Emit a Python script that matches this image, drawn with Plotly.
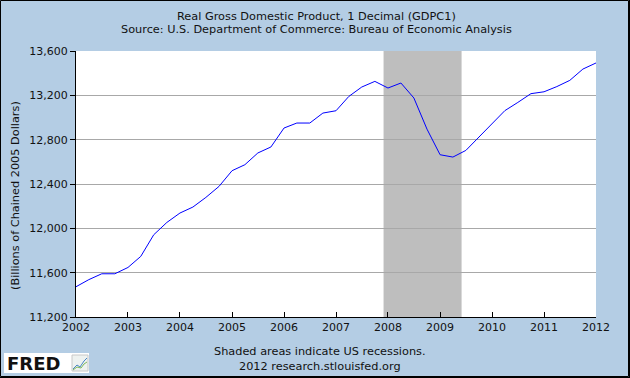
import plotly.graph_objects as go

# ---- data (quarterly, billions of chained 2005 dollars) ----
quarters = [
    "2002-01-01", "2002-04-01", "2002-07-01", "2002-10-01",
    "2003-01-01", "2003-04-01", "2003-07-01", "2003-10-01",
    "2004-01-01", "2004-04-01", "2004-07-01", "2004-10-01",
    "2005-01-01", "2005-04-01", "2005-07-01", "2005-10-01",
    "2006-01-01", "2006-04-01", "2006-07-01", "2006-10-01",
    "2007-01-01", "2007-04-01", "2007-07-01", "2007-10-01",
    "2008-01-01", "2008-04-01", "2008-07-01", "2008-10-01",
    "2009-01-01", "2009-04-01", "2009-07-01", "2009-10-01",
    "2010-01-01", "2010-04-01", "2010-07-01", "2010-10-01",
    "2011-01-01", "2011-04-01", "2011-07-01", "2011-10-01",
    "2012-01-01",
]
gdp = [
    11473, 11537, 11590, 11590,
    11647, 11747, 11942, 12053,
    12138, 12192, 12279, 12378,
    12520, 12574, 12680, 12734,
    12905, 12950, 12950, 13040,
    13061, 13190, 13275, 13326,
    13266, 13311, 13176, 12895,
    12664, 12643, 12703, 12825,
    12945, 13062, 13136, 13215,
    13232, 13279, 13335, 13437,
    13492,
]
recession_start = "2007-12-01"
recession_end = "2009-06-01"
y_ticks = [11200, 11600, 12000, 12400, 12800, 13200, 13600]
x_ticks = [f"{y}-01-01" for y in range(2002, 2013)]
x_tick_labels = [str(y) for y in range(2002, 2013)]

title_1 = "Real Gross Domestic Product, 1 Decimal (GDPC1)"
title_2 = "Source: U.S. Department of Commerce: Bureau of Economic Analysis"
y_title = "(Billions of Chained 2005 Dollars)"
note_1 = "Shaded areas indicate US recessions."
note_2 = "2012 research.stlouisfed.org"

# ---- layout geometry ----
W, H = 630, 378
L, R, T, B = 76, 34, 51, 61
PW, PH = W - L - R, H - T - B
BG = "#B4CDE4"
FONT = "DejaVu Sans"
TXT = "#111111"


def px(p):
    return (p - L) / PW


def py(p):
    return (H - B - p) / PH


fig = go.Figure()
fig.add_trace(go.Scatter(
    x=quarters, y=gdp, mode="lines",
    line=dict(color="#0000FF", width=1),
    hoverinfo="x+y", showlegend=False,
))

shapes = [
    dict(type="rect", xref="x", yref="paper", x0=recession_start, x1=recession_end,
         y0=0, y1=1, fillcolor="#BEBEBE", line=dict(width=0), layer="below"),
    # outer image border
    dict(type="rect", xref="paper", yref="paper", x0=px(0.5), x1=px(628.5),
         y0=py(0.5), y1=py(376.5), line=dict(color="black", width=1)),
    dict(type="line", xref="paper", yref="paper", x0=px(629.5), x1=px(629.5),
         y0=py(0), y1=py(378), line=dict(color="black", width=1)),
    dict(type="line", xref="paper", yref="paper", x0=px(0), x1=px(630),
         y0=py(377.5), y1=py(377.5), line=dict(color="black", width=1)),
    # FRED logo box
    dict(type="rect", xref="paper", yref="paper", x0=px(4), x1=px(89),
         y0=py(353), y1=py(373), fillcolor="white", line=dict(width=0)),
    # logo icon frame and lines
    dict(type="rect", xref="paper", yref="paper", x0=px(72), x1=px(88),
         y0=py(355), y1=py(371), fillcolor="#EEF2F0", line=dict(color="#C8C8C8", width=1)),
    dict(type="path", xref="paper", yref="paper",
         path=f"M {px(73)},{py(369)} L {px(77)},{py(365)} L {px(80)},{py(367)} L {px(84)},{py(361)} L {px(87)},{py(358)}",
         line=dict(color="#4A86C5", width=1)),
    dict(type="path", xref="paper", yref="paper",
         path=f"M {px(73)},{py(370)} L {px(77)},{py(367)} L {px(81)},{py(368)} L {px(84)},{py(364)} L {px(87)},{py(362)}",
         line=dict(color="#7DB85A", width=1)),
]

annotations = [
    dict(text=title_1, xref="paper", yref="paper", x=px(316), y=py(16),
         showarrow=False, xanchor="center", yanchor="middle",
         font=dict(family=FONT, size=11.3, color=TXT)),
    dict(text=title_2, xref="paper", yref="paper", x=px(316), y=py(30),
         showarrow=False, xanchor="center", yanchor="middle",
         font=dict(family=FONT, size=11.3, color=TXT)),
    dict(text=note_1, xref="paper", yref="paper", x=px(320), y=py(351),
         showarrow=False, xanchor="center", yanchor="middle",
         font=dict(family=FONT, size=11.3, color=TXT)),
    dict(text=note_2, xref="paper", yref="paper", x=px(320), y=py(366),
         showarrow=False, xanchor="center", yanchor="middle",
         font=dict(family=FONT, size=11.3, color=TXT)),
    dict(text="<b>FRED</b>", xref="paper", yref="paper", x=px(5), y=py(363.5),
         showarrow=False, xanchor="left", yanchor="middle",
         font=dict(family="DejaVu Sans", size=18, color="#111111")),
    dict(text=y_title, xref="paper", yref="paper", x=px(15), y=py(196),
         showarrow=False, xanchor="center", yanchor="middle", textangle=-90,
         font=dict(family=FONT, size=11.3, color=TXT)),
]

fig.update_layout(
    width=W, height=H,
    margin=dict(l=L, r=R, t=T, b=B, pad=0),
    paper_bgcolor=BG, plot_bgcolor="white",
    font=dict(family=FONT, size=11, color=TXT),
    shapes=shapes, annotations=annotations,
    xaxis=dict(
        type="date", range=[x_ticks[0], x_ticks[-1]],
        tickmode="array", tickvals=x_ticks, ticktext=x_tick_labels,
        ticks="inside", ticklen=5, tickcolor="black", tickwidth=1,
        showline=True, linecolor="black", linewidth=1,
        showgrid=False, zeroline=False, fixedrange=True,
    ),
    yaxis=dict(
        range=[y_ticks[0], y_ticks[-1]],
        tickmode="array", tickvals=y_ticks,
        ticktext=[f"{v:,}" for v in y_ticks],
        ticks="outside", ticklen=5, tickcolor="black", tickwidth=1,
        showline=True, linecolor="black", linewidth=1,
        showgrid=True, gridcolor="#A8A8A8", gridwidth=1,
        zeroline=False, fixedrange=True,
    ),
)

fig.write_html(
    "out.html",
    config={"displayModeBar": False},
    post_script="document.body.style.margin='0';document.body.style.overflow='hidden';",
)
